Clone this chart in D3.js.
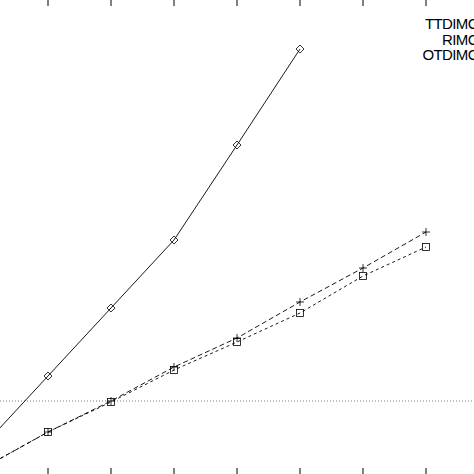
<!DOCTYPE html>
<html><head><meta charset="utf-8">
<script src="https://cdn.jsdelivr.net/npm/d3@7.9.0/dist/d3.min.js"></script>
<style>body{margin:0;background:#fff}</style></head>
<body><svg id="c" width="474" height="474"></svg>
<script>
// data (pixel-read, arbitrary units: y in chart units where 0 = bottom)
const steps = [0, 1, 2, 3, 4, 5, 6, 7];
const ttdimc = [30, 98, 166, 234, 329, 425];
const rimc = [7, 42, 73, 107, 136, 172, 206, 242];
const otdimc = [7, 42, 72, 104, 132, 161, 198, 227];
const baseline = 73;
const ticks = [1, 2, 3, 4, 5, 6, 7];

const svg = d3.select('#c');
const x = d3.scaleLinear().domain([0, 7]).range([-15, 426]);
const y = d3.scaleLinear().domain([0, 474]).range([474, 0]);
const line = d3.line().x((d, i) => x(i)).y(d => y(d));

// ticks top and bottom
ticks.forEach(t => {
  svg.append('line').attr('x1', x(t)).attr('x2', x(t)).attr('y1', 0).attr('y2', 6).attr('stroke', '#000');
  svg.append('line').attr('x1', x(t)).attr('x2', x(t)).attr('y1', 468).attr('y2', 474).attr('stroke', '#000');
});

svg.append('line').attr('x1', 0).attr('x2', 474).attr('y1', y(baseline)).attr('y2', y(baseline))
  .attr('stroke', '#555').attr('stroke-dasharray', '1,2').attr('stroke-width', 0.8);

const series = [
  { name: 'TTDIMC', data: ttdimc, dash: null, marker: 'diamond' },
  { name: 'RIMC', data: rimc, dash: '5,3', marker: 'plus' },
  { name: 'OTDIMC', data: otdimc, dash: '3,3', marker: 'square' }
];

series.forEach(s => {
  svg.append('path').attr('d', line(s.data)).attr('fill', 'none').attr('stroke', '#000')
    .attr('stroke-width', 0.9).attr('stroke-dasharray', s.dash);
  s.data.forEach((d, i) => {
    if (i === 0) return;
    const cx = x(i), cy = y(d);
    if (s.marker === 'diamond') {
      svg.append('path').attr('d', `M${cx},${cy - 4}L${cx + 4},${cy}L${cx},${cy + 4}L${cx - 4},${cy}Z`)
        .attr('fill', 'none').attr('stroke', '#000').attr('stroke-width', 0.8);
    } else if (s.marker === 'square') {
      svg.append('rect').attr('x', cx - 3.5).attr('y', cy - 3.5).attr('width', 7).attr('height', 7)
        .attr('fill', 'none').attr('stroke', '#000').attr('stroke-width', 0.8);
    } else {
      svg.append('path').attr('d', `M${cx - 4},${cy}H${cx + 4}M${cx},${cy - 4}V${cy + 4}`)
        .attr('stroke', '#000').attr('stroke-width', 0.8);
    }
  });
});

// legend (cut off at right edge)
series.forEach((s, i) => {
  svg.append('text').attr('x', 478).attr('y', 29 + i * 15.5).attr('text-anchor', 'end')
    .attr('font-family', 'Liberation Sans, Arial, sans-serif').attr('font-size', 15)
    .attr('letter-spacing', -0.6).text(s.name);
});
</script></body></html>
